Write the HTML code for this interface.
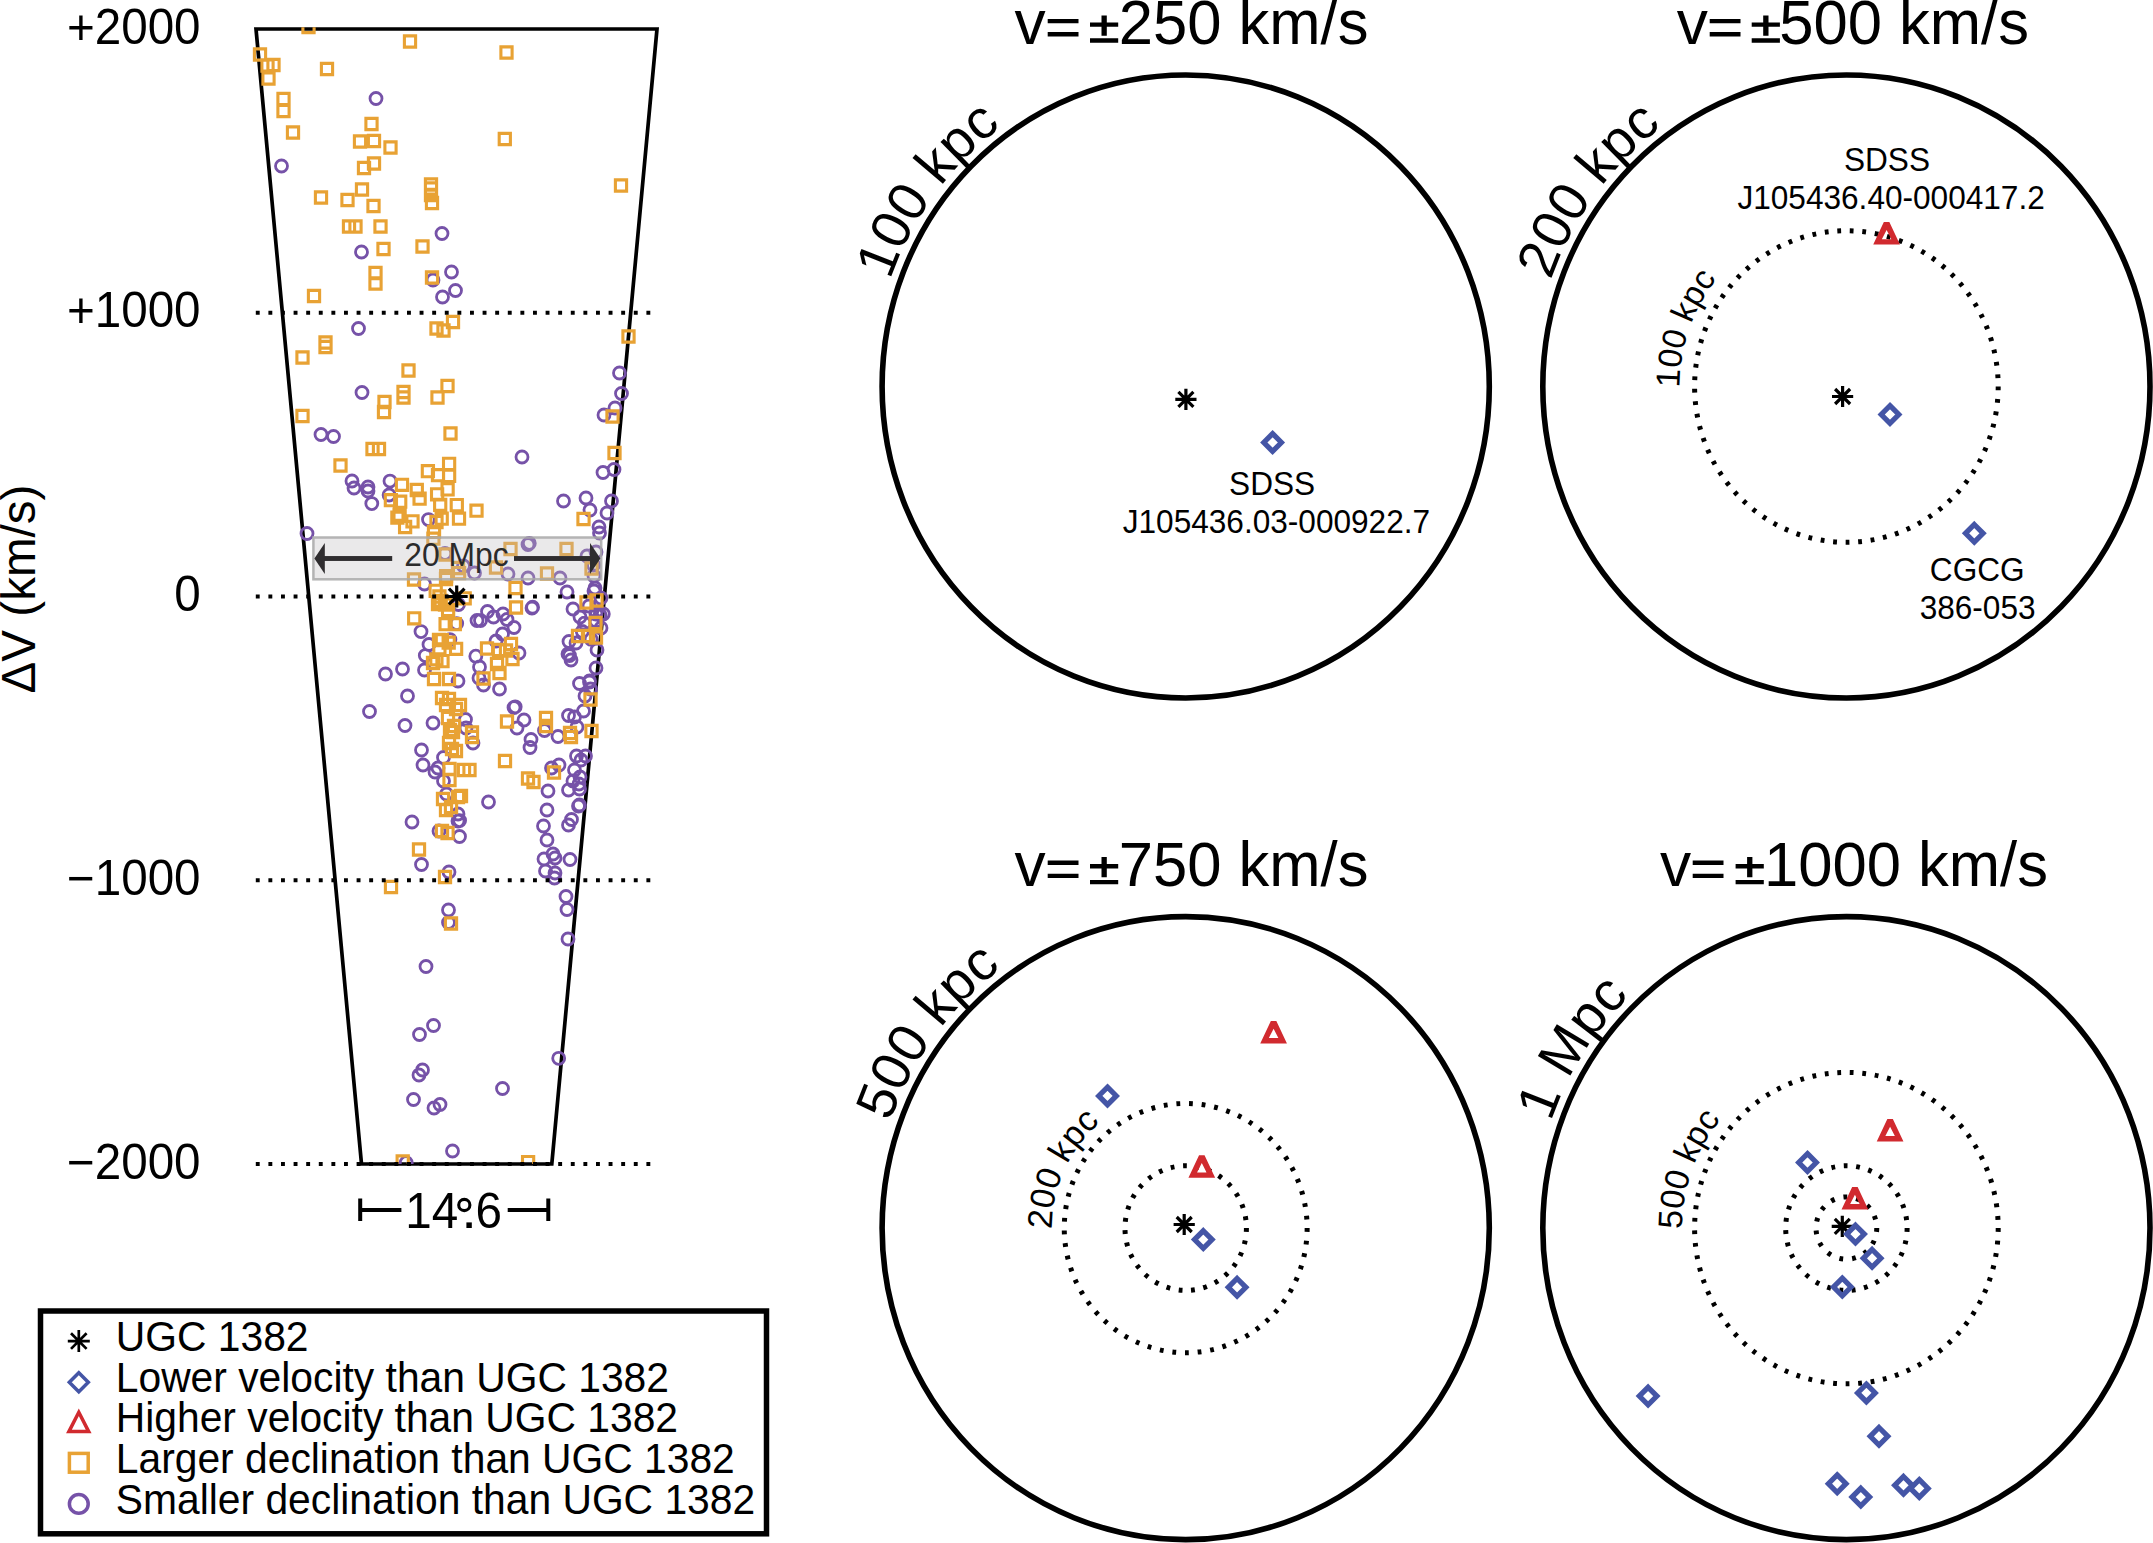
<!DOCTYPE html><html><head><meta charset="utf-8"><style>html,body{margin:0;padding:0;background:#fff;overflow:hidden}svg{display:block}</style></head><body><svg width="2153" height="1543" viewBox="0 0 2153 1543" font-family='"Liberation Sans", sans-serif'>
<rect width="100%" height="100%" fill="#fff"/>
<defs><clipPath id="wc"><rect x="240" y="27.2" width="430" height="1136.8"/></clipPath></defs>
<path d="M256 29H657L551.8 1164H361.5Z" stroke="#000" stroke-width="3.7" fill="none" stroke-linejoin="miter"/>
<g clip-path="url(#wc)">
<path d="M370.0 98.5a6 6 0 1 0 12 0a6 6 0 1 0 -12 0zM275.5 166.0a6 6 0 1 0 12 0a6 6 0 1 0 -12 0zM436.0 233.5a6 6 0 1 0 12 0a6 6 0 1 0 -12 0zM355.5 252.0a6 6 0 1 0 12 0a6 6 0 1 0 -12 0zM445.5 272.0a6 6 0 1 0 12 0a6 6 0 1 0 -12 0zM427.0 280.0a6 6 0 1 0 12 0a6 6 0 1 0 -12 0zM449.5 290.5a6 6 0 1 0 12 0a6 6 0 1 0 -12 0zM436.5 297.0a6 6 0 1 0 12 0a6 6 0 1 0 -12 0zM352.5 328.5a6 6 0 1 0 12 0a6 6 0 1 0 -12 0zM356.0 392.5a6 6 0 1 0 12 0a6 6 0 1 0 -12 0zM315.0 434.5a6 6 0 1 0 12 0a6 6 0 1 0 -12 0zM327.5 436.5a6 6 0 1 0 12 0a6 6 0 1 0 -12 0zM613.5 373.0a6 6 0 1 0 12 0a6 6 0 1 0 -12 0zM615.5 393.5a6 6 0 1 0 12 0a6 6 0 1 0 -12 0zM609.0 408.0a6 6 0 1 0 12 0a6 6 0 1 0 -12 0zM598.0 415.0a6 6 0 1 0 12 0a6 6 0 1 0 -12 0zM516.0 457.0a6 6 0 1 0 12 0a6 6 0 1 0 -12 0zM346.0 481.0a6 6 0 1 0 12 0a6 6 0 1 0 -12 0zM348.0 488.0a6 6 0 1 0 12 0a6 6 0 1 0 -12 0zM362.0 487.0a6 6 0 1 0 12 0a6 6 0 1 0 -12 0zM362.0 491.0a6 6 0 1 0 12 0a6 6 0 1 0 -12 0zM384.0 481.1a6 6 0 1 0 12 0a6 6 0 1 0 -12 0zM365.8 503.6a6 6 0 1 0 12 0a6 6 0 1 0 -12 0zM383.1 495.0a6 6 0 1 0 12 0a6 6 0 1 0 -12 0zM422.5 519.6a6 6 0 1 0 12 0a6 6 0 1 0 -12 0zM301.0 533.5a6 6 0 1 0 12 0a6 6 0 1 0 -12 0zM439.0 553.5a6 6 0 1 0 12 0a6 6 0 1 0 -12 0zM418.5 584.0a6 6 0 1 0 12 0a6 6 0 1 0 -12 0zM597.0 472.5a6 6 0 1 0 12 0a6 6 0 1 0 -12 0zM608.0 469.5a6 6 0 1 0 12 0a6 6 0 1 0 -12 0zM557.5 501.0a6 6 0 1 0 12 0a6 6 0 1 0 -12 0zM580.0 498.0a6 6 0 1 0 12 0a6 6 0 1 0 -12 0zM605.5 501.0a6 6 0 1 0 12 0a6 6 0 1 0 -12 0zM584.0 510.0a6 6 0 1 0 12 0a6 6 0 1 0 -12 0zM601.0 513.0a6 6 0 1 0 12 0a6 6 0 1 0 -12 0zM593.0 527.0a6 6 0 1 0 12 0a6 6 0 1 0 -12 0zM593.5 533.0a6 6 0 1 0 12 0a6 6 0 1 0 -12 0zM522.0 544.5a6 6 0 1 0 12 0a6 6 0 1 0 -12 0zM590.0 552.0a6 6 0 1 0 12 0a6 6 0 1 0 -12 0zM581.0 556.0a6 6 0 1 0 12 0a6 6 0 1 0 -12 0zM587.5 565.0a6 6 0 1 0 12 0a6 6 0 1 0 -12 0zM468.5 573.0a6 6 0 1 0 12 0a6 6 0 1 0 -12 0zM457.5 566.0a6 6 0 1 0 12 0a6 6 0 1 0 -12 0zM502.0 574.0a6 6 0 1 0 12 0a6 6 0 1 0 -12 0zM522.0 578.0a6 6 0 1 0 12 0a6 6 0 1 0 -12 0zM554.0 578.0a6 6 0 1 0 12 0a6 6 0 1 0 -12 0zM588.0 576.0a6 6 0 1 0 12 0a6 6 0 1 0 -12 0zM561.0 592.0a6 6 0 1 0 12 0a6 6 0 1 0 -12 0zM588.0 591.0a6 6 0 1 0 12 0a6 6 0 1 0 -12 0zM452.5 604.5a6 6 0 1 0 12 0a6 6 0 1 0 -12 0zM471.0 620.5a6 6 0 1 0 12 0a6 6 0 1 0 -12 0zM415.0 631.6a6 6 0 1 0 12 0a6 6 0 1 0 -12 0zM423.0 644.5a6 6 0 1 0 12 0a6 6 0 1 0 -12 0zM419.3 655.6a6 6 0 1 0 12 0a6 6 0 1 0 -12 0zM450.7 623.6a6 6 0 1 0 12 0a6 6 0 1 0 -12 0zM443.9 639.6a6 6 0 1 0 12 0a6 6 0 1 0 -12 0zM469.8 656.2a6 6 0 1 0 12 0a6 6 0 1 0 -12 0zM418.5 670.0a6 6 0 1 0 12 0a6 6 0 1 0 -12 0zM396.5 669.0a6 6 0 1 0 12 0a6 6 0 1 0 -12 0zM379.5 674.0a6 6 0 1 0 12 0a6 6 0 1 0 -12 0zM401.5 696.0a6 6 0 1 0 12 0a6 6 0 1 0 -12 0zM363.5 711.5a6 6 0 1 0 12 0a6 6 0 1 0 -12 0zM399.0 725.5a6 6 0 1 0 12 0a6 6 0 1 0 -12 0zM427.0 723.0a6 6 0 1 0 12 0a6 6 0 1 0 -12 0zM452.0 681.0a6 6 0 1 0 12 0a6 6 0 1 0 -12 0zM595.0 598.0a6 6 0 1 0 12 0a6 6 0 1 0 -12 0zM526.0 608.0a6 6 0 1 0 12 0a6 6 0 1 0 -12 0zM481.5 611.5a6 6 0 1 0 12 0a6 6 0 1 0 -12 0zM474.5 620.5a6 6 0 1 0 12 0a6 6 0 1 0 -12 0zM487.5 617.0a6 6 0 1 0 12 0a6 6 0 1 0 -12 0zM497.0 614.0a6 6 0 1 0 12 0a6 6 0 1 0 -12 0zM501.0 619.5a6 6 0 1 0 12 0a6 6 0 1 0 -12 0zM508.0 627.5a6 6 0 1 0 12 0a6 6 0 1 0 -12 0zM496.5 634.0a6 6 0 1 0 12 0a6 6 0 1 0 -12 0zM490.0 641.0a6 6 0 1 0 12 0a6 6 0 1 0 -12 0zM513.0 653.0a6 6 0 1 0 12 0a6 6 0 1 0 -12 0zM473.5 667.0a6 6 0 1 0 12 0a6 6 0 1 0 -12 0zM473.0 678.0a6 6 0 1 0 12 0a6 6 0 1 0 -12 0zM477.5 685.0a6 6 0 1 0 12 0a6 6 0 1 0 -12 0zM493.5 689.0a6 6 0 1 0 12 0a6 6 0 1 0 -12 0zM567.0 609.0a6 6 0 1 0 12 0a6 6 0 1 0 -12 0zM574.0 617.0a6 6 0 1 0 12 0a6 6 0 1 0 -12 0zM594.0 615.0a6 6 0 1 0 12 0a6 6 0 1 0 -12 0zM595.0 628.0a6 6 0 1 0 12 0a6 6 0 1 0 -12 0zM563.0 641.5a6 6 0 1 0 12 0a6 6 0 1 0 -12 0zM570.0 643.0a6 6 0 1 0 12 0a6 6 0 1 0 -12 0zM562.0 654.0a6 6 0 1 0 12 0a6 6 0 1 0 -12 0zM565.0 660.0a6 6 0 1 0 12 0a6 6 0 1 0 -12 0zM591.0 650.0a6 6 0 1 0 12 0a6 6 0 1 0 -12 0zM590.0 668.0a6 6 0 1 0 12 0a6 6 0 1 0 -12 0zM573.5 683.5a6 6 0 1 0 12 0a6 6 0 1 0 -12 0zM583.5 681.0a6 6 0 1 0 12 0a6 6 0 1 0 -12 0zM584.5 689.0a6 6 0 1 0 12 0a6 6 0 1 0 -12 0zM579.0 696.0a6 6 0 1 0 12 0a6 6 0 1 0 -12 0zM508.0 707.5a6 6 0 1 0 12 0a6 6 0 1 0 -12 0zM518.0 720.0a6 6 0 1 0 12 0a6 6 0 1 0 -12 0zM511.0 728.0a6 6 0 1 0 12 0a6 6 0 1 0 -12 0zM562.5 715.5a6 6 0 1 0 12 0a6 6 0 1 0 -12 0zM568.5 717.0a6 6 0 1 0 12 0a6 6 0 1 0 -12 0zM577.5 711.0a6 6 0 1 0 12 0a6 6 0 1 0 -12 0zM571.0 727.0a6 6 0 1 0 12 0a6 6 0 1 0 -12 0zM459.5 719.5a6 6 0 1 0 12 0a6 6 0 1 0 -12 0zM460.0 728.0a6 6 0 1 0 12 0a6 6 0 1 0 -12 0zM415.5 750.0a6 6 0 1 0 12 0a6 6 0 1 0 -12 0zM417.0 765.0a6 6 0 1 0 12 0a6 6 0 1 0 -12 0zM432.0 768.0a6 6 0 1 0 12 0a6 6 0 1 0 -12 0zM429.0 772.0a6 6 0 1 0 12 0a6 6 0 1 0 -12 0zM437.5 757.5a6 6 0 1 0 12 0a6 6 0 1 0 -12 0zM437.5 781.0a6 6 0 1 0 12 0a6 6 0 1 0 -12 0zM440.5 794.0a6 6 0 1 0 12 0a6 6 0 1 0 -12 0zM452.0 814.0a6 6 0 1 0 12 0a6 6 0 1 0 -12 0zM452.0 821.0a6 6 0 1 0 12 0a6 6 0 1 0 -12 0zM453.5 836.5a6 6 0 1 0 12 0a6 6 0 1 0 -12 0zM406.0 822.0a6 6 0 1 0 12 0a6 6 0 1 0 -12 0zM433.0 831.0a6 6 0 1 0 12 0a6 6 0 1 0 -12 0zM415.5 864.5a6 6 0 1 0 12 0a6 6 0 1 0 -12 0zM443.0 872.0a6 6 0 1 0 12 0a6 6 0 1 0 -12 0zM467.0 743.0a6 6 0 1 0 12 0a6 6 0 1 0 -12 0zM538.5 730.5a6 6 0 1 0 12 0a6 6 0 1 0 -12 0zM552.0 736.5a6 6 0 1 0 12 0a6 6 0 1 0 -12 0zM525.0 739.5a6 6 0 1 0 12 0a6 6 0 1 0 -12 0zM524.0 747.5a6 6 0 1 0 12 0a6 6 0 1 0 -12 0zM570.5 756.0a6 6 0 1 0 12 0a6 6 0 1 0 -12 0zM579.5 756.0a6 6 0 1 0 12 0a6 6 0 1 0 -12 0zM575.0 760.0a6 6 0 1 0 12 0a6 6 0 1 0 -12 0zM553.0 765.0a6 6 0 1 0 12 0a6 6 0 1 0 -12 0zM545.5 768.0a6 6 0 1 0 12 0a6 6 0 1 0 -12 0zM568.5 770.0a6 6 0 1 0 12 0a6 6 0 1 0 -12 0zM574.0 777.0a6 6 0 1 0 12 0a6 6 0 1 0 -12 0zM567.0 781.0a6 6 0 1 0 12 0a6 6 0 1 0 -12 0zM573.0 784.0a6 6 0 1 0 12 0a6 6 0 1 0 -12 0zM562.5 790.0a6 6 0 1 0 12 0a6 6 0 1 0 -12 0zM573.5 789.0a6 6 0 1 0 12 0a6 6 0 1 0 -12 0zM542.0 791.0a6 6 0 1 0 12 0a6 6 0 1 0 -12 0zM482.5 802.0a6 6 0 1 0 12 0a6 6 0 1 0 -12 0zM572.5 806.0a6 6 0 1 0 12 0a6 6 0 1 0 -12 0zM541.0 810.0a6 6 0 1 0 12 0a6 6 0 1 0 -12 0zM565.5 819.5a6 6 0 1 0 12 0a6 6 0 1 0 -12 0zM562.5 825.0a6 6 0 1 0 12 0a6 6 0 1 0 -12 0zM537.5 826.0a6 6 0 1 0 12 0a6 6 0 1 0 -12 0zM541.0 840.0a6 6 0 1 0 12 0a6 6 0 1 0 -12 0zM538.0 859.0a6 6 0 1 0 12 0a6 6 0 1 0 -12 0zM547.0 854.0a6 6 0 1 0 12 0a6 6 0 1 0 -12 0zM549.0 858.0a6 6 0 1 0 12 0a6 6 0 1 0 -12 0zM564.0 859.5a6 6 0 1 0 12 0a6 6 0 1 0 -12 0zM539.5 871.0a6 6 0 1 0 12 0a6 6 0 1 0 -12 0zM549.0 873.0a6 6 0 1 0 12 0a6 6 0 1 0 -12 0zM442.5 910.0a6 6 0 1 0 12 0a6 6 0 1 0 -12 0zM442.5 922.5a6 6 0 1 0 12 0a6 6 0 1 0 -12 0zM420.0 966.5a6 6 0 1 0 12 0a6 6 0 1 0 -12 0zM548.5 878.0a6 6 0 1 0 12 0a6 6 0 1 0 -12 0zM560.0 896.5a6 6 0 1 0 12 0a6 6 0 1 0 -12 0zM561.0 909.5a6 6 0 1 0 12 0a6 6 0 1 0 -12 0zM562.0 939.0a6 6 0 1 0 12 0a6 6 0 1 0 -12 0zM427.5 1025.5a6 6 0 1 0 12 0a6 6 0 1 0 -12 0zM413.5 1034.5a6 6 0 1 0 12 0a6 6 0 1 0 -12 0zM416.5 1070.0a6 6 0 1 0 12 0a6 6 0 1 0 -12 0zM413.0 1075.0a6 6 0 1 0 12 0a6 6 0 1 0 -12 0zM496.5 1088.5a6 6 0 1 0 12 0a6 6 0 1 0 -12 0zM407.5 1099.5a6 6 0 1 0 12 0a6 6 0 1 0 -12 0zM434.0 1104.5a6 6 0 1 0 12 0a6 6 0 1 0 -12 0zM428.0 1108.0a6 6 0 1 0 12 0a6 6 0 1 0 -12 0zM446.5 1151.0a6 6 0 1 0 12 0a6 6 0 1 0 -12 0zM400.2 1162.7a6 6 0 1 0 12 0a6 6 0 1 0 -12 0zM552.7 1058.3a6 6 0 1 0 12 0a6 6 0 1 0 -12 0zM578.4 623.2a6 6 0 1 0 12 0a6 6 0 1 0 -12 0zM576.3 631.5a6 6 0 1 0 12 0a6 6 0 1 0 -12 0zM590.3 611.8a6 6 0 1 0 12 0a6 6 0 1 0 -12 0zM589.8 623.2a6 6 0 1 0 12 0a6 6 0 1 0 -12 0zM585.1 639.2a6 6 0 1 0 12 0a6 6 0 1 0 -12 0zM583.0 606.0a6 6 0 1 0 12 0a6 6 0 1 0 -12 0zM526.6 607.2a6 6 0 1 0 12 0a6 6 0 1 0 -12 0zM453.6 820.6a6 6 0 1 0 12 0a6 6 0 1 0 -12 0zM573.4 805.0a6 6 0 1 0 12 0a6 6 0 1 0 -12 0zM509.2 706.8a6 6 0 1 0 12 0a6 6 0 1 0 -12 0zM523.3 543.3a6 6 0 1 0 12 0a6 6 0 1 0 -12 0zM589.0 588.0a6 6 0 1 0 12 0a6 6 0 1 0 -12 0zM590.0 621.0a6 6 0 1 0 12 0a6 6 0 1 0 -12 0zM563.5 655.5a6 6 0 1 0 12 0a6 6 0 1 0 -12 0zM583.5 682.0a6 6 0 1 0 12 0a6 6 0 1 0 -12 0zM590.0 614.0a6 6 0 1 0 12 0a6 6 0 1 0 -12 0zM597.3 614.0a6 6 0 1 0 12 0a6 6 0 1 0 -12 0z" stroke="#7652A8" stroke-width="2.8" fill="none"/>
<path d="M302.9 21.4h11.2v11.2h-11.2zM404.4 35.9h11.2v11.2h-11.2zM254.4 48.9h11.2v11.2h-11.2zM261.9 59.9h11.2v11.2h-11.2zM267.9 59.4h11.2v11.2h-11.2zM262.9 72.9h11.2v11.2h-11.2zM277.9 93.4h11.2v11.2h-11.2zM277.9 105.4h11.2v11.2h-11.2zM287.4 126.9h11.2v11.2h-11.2zM321.4 63.4h11.2v11.2h-11.2zM365.9 118.4h11.2v11.2h-11.2zM354.4 135.9h11.2v11.2h-11.2zM368.4 135.4h11.2v11.2h-11.2zM384.9 141.9h11.2v11.2h-11.2zM368.4 157.9h11.2v11.2h-11.2zM358.4 162.4h11.2v11.2h-11.2zM500.9 46.9h11.2v11.2h-11.2zM499.2 133.4h11.2v11.2h-11.2zM356.4 183.9h11.2v11.2h-11.2zM315.4 191.9h11.2v11.2h-11.2zM341.9 194.4h11.2v11.2h-11.2zM367.9 200.4h11.2v11.2h-11.2zM425.4 178.9h11.2v11.2h-11.2zM425.4 182.9h11.2v11.2h-11.2zM425.4 189.4h11.2v11.2h-11.2zM426.4 197.4h11.2v11.2h-11.2zM343.4 220.9h11.2v11.2h-11.2zM349.9 220.9h11.2v11.2h-11.2zM374.9 220.9h11.2v11.2h-11.2zM377.9 243.4h11.2v11.2h-11.2zM416.9 240.9h11.2v11.2h-11.2zM369.9 267.4h11.2v11.2h-11.2zM369.9 277.9h11.2v11.2h-11.2zM426.4 271.9h11.2v11.2h-11.2zM308.4 290.4h11.2v11.2h-11.2zM615.4 179.9h11.2v11.2h-11.2zM447.4 316.4h11.2v11.2h-11.2zM430.9 322.9h11.2v11.2h-11.2zM437.9 324.9h11.2v11.2h-11.2zM319.9 336.9h11.2v11.2h-11.2zM319.9 341.4h11.2v11.2h-11.2zM296.9 351.9h11.2v11.2h-11.2zM402.9 364.9h11.2v11.2h-11.2zM441.9 380.4h11.2v11.2h-11.2zM397.9 386.4h11.2v11.2h-11.2zM397.9 391.9h11.2v11.2h-11.2zM378.9 396.4h11.2v11.2h-11.2zM378.4 406.4h11.2v11.2h-11.2zM431.9 391.9h11.2v11.2h-11.2zM296.9 410.4h11.2v11.2h-11.2zM444.9 427.9h11.2v11.2h-11.2zM366.9 443.4h11.2v11.2h-11.2zM373.4 443.4h11.2v11.2h-11.2zM622.9 330.9h11.2v11.2h-11.2zM606.9 410.9h11.2v11.2h-11.2zM608.9 447.4h11.2v11.2h-11.2zM334.9 459.9h11.2v11.2h-11.2zM422.3 465.6h11.2v11.2h-11.2zM443.5 458.3h11.2v11.2h-11.2zM432.4 469.6h11.2v11.2h-11.2zM443.5 470.3h11.2v11.2h-11.2zM396.4 479.2h11.2v11.2h-11.2zM411.2 484.4h11.2v11.2h-11.2zM442.0 483.8h11.2v11.2h-11.2zM431.5 488.7h11.2v11.2h-11.2zM385.3 494.6h11.2v11.2h-11.2zM394.6 496.1h11.2v11.2h-11.2zM414.0 493.0h11.2v11.2h-11.2zM434.6 499.2h11.2v11.2h-11.2zM451.2 499.5h11.2v11.2h-11.2zM394.0 509.1h11.2v11.2h-11.2zM391.8 512.1h11.2v11.2h-11.2zM406.9 515.8h11.2v11.2h-11.2zM399.5 521.4h11.2v11.2h-11.2zM430.9 516.4h11.2v11.2h-11.2zM436.1 513.1h11.2v11.2h-11.2zM453.4 513.1h11.2v11.2h-11.2zM470.9 505.1h11.2v11.2h-11.2zM428.4 526.3h11.2v11.2h-11.2zM427.8 533.1h11.2v11.2h-11.2zM439.9 548.9h11.2v11.2h-11.2zM408.4 573.9h11.2v11.2h-11.2zM440.4 573.4h11.2v11.2h-11.2zM577.9 513.4h11.2v11.2h-11.2zM504.9 543.4h11.2v11.2h-11.2zM560.9 543.4h11.2v11.2h-11.2zM490.4 561.9h11.2v11.2h-11.2zM452.4 562.4h11.2v11.2h-11.2zM541.4 567.9h11.2v11.2h-11.2zM585.9 562.9h11.2v11.2h-11.2zM509.9 582.4h11.2v11.2h-11.2zM440.6 570.6h11.2v11.2h-11.2zM453.5 567.5h11.2v11.2h-11.2zM430.1 585.3h11.2v11.2h-11.2zM433.8 590.9h11.2v11.2h-11.2zM435.1 595.2h11.2v11.2h-11.2zM459.1 592.7h11.2v11.2h-11.2zM439.4 598.9h11.2v11.2h-11.2zM442.5 604.4h11.2v11.2h-11.2zM442.5 607.5h11.2v11.2h-11.2zM408.6 612.7h11.2v11.2h-11.2zM440.0 618.6h11.2v11.2h-11.2zM449.2 618.6h11.2v11.2h-11.2zM436.3 634.6h11.2v11.2h-11.2zM443.1 637.1h11.2v11.2h-11.2zM450.5 643.2h11.2v11.2h-11.2zM433.8 643.8h11.2v11.2h-11.2zM430.8 653.7h11.2v11.2h-11.2zM436.9 655.5h11.2v11.2h-11.2zM427.4 657.4h11.2v11.2h-11.2zM428.4 673.4h11.2v11.2h-11.2zM443.4 673.4h11.2v11.2h-11.2zM443.4 693.4h11.2v11.2h-11.2zM440.4 699.4h11.2v11.2h-11.2zM450.4 703.4h11.2v11.2h-11.2zM442.4 712.4h11.2v11.2h-11.2zM448.4 720.4h11.2v11.2h-11.2zM444.4 724.4h11.2v11.2h-11.2zM436.4 692.4h11.2v11.2h-11.2zM433.4 634.4h11.2v11.2h-11.2zM432.4 598.4h11.2v11.2h-11.2zM454.4 699.4h11.2v11.2h-11.2zM510.4 601.9h11.2v11.2h-11.2zM580.9 596.9h11.2v11.2h-11.2zM590.9 594.9h11.2v11.2h-11.2zM589.9 617.4h11.2v11.2h-11.2zM572.4 630.4h11.2v11.2h-11.2zM582.4 630.4h11.2v11.2h-11.2zM590.4 631.9h11.2v11.2h-11.2zM481.4 642.9h11.2v11.2h-11.2zM493.4 644.4h11.2v11.2h-11.2zM500.4 644.9h11.2v11.2h-11.2zM505.4 638.4h11.2v11.2h-11.2zM506.9 653.4h11.2v11.2h-11.2zM491.4 658.4h11.2v11.2h-11.2zM493.9 667.4h11.2v11.2h-11.2zM477.9 672.9h11.2v11.2h-11.2zM584.9 693.9h11.2v11.2h-11.2zM501.4 715.9h11.2v11.2h-11.2zM540.4 712.4h11.2v11.2h-11.2zM540.4 720.4h11.2v11.2h-11.2zM585.9 725.4h11.2v11.2h-11.2zM466.4 726.9h11.2v11.2h-11.2zM564.4 727.4h11.2v11.2h-11.2zM447.4 726.4h11.2v11.2h-11.2zM443.4 737.4h11.2v11.2h-11.2zM446.4 743.4h11.2v11.2h-11.2zM450.4 745.4h11.2v11.2h-11.2zM443.9 763.4h11.2v11.2h-11.2zM443.9 774.4h11.2v11.2h-11.2zM437.4 793.4h11.2v11.2h-11.2zM440.4 804.4h11.2v11.2h-11.2zM445.4 801.4h11.2v11.2h-11.2zM455.4 790.4h11.2v11.2h-11.2zM436.4 825.4h11.2v11.2h-11.2zM441.9 827.4h11.2v11.2h-11.2zM413.4 843.9h11.2v11.2h-11.2zM439.4 871.4h11.2v11.2h-11.2zM458.4 764.4h11.2v11.2h-11.2zM466.4 731.4h11.2v11.2h-11.2zM565.4 731.4h11.2v11.2h-11.2zM499.4 755.4h11.2v11.2h-11.2zM463.9 764.4h11.2v11.2h-11.2zM522.4 772.9h11.2v11.2h-11.2zM527.9 776.4h11.2v11.2h-11.2zM548.4 766.9h11.2v11.2h-11.2zM452.4 791.4h11.2v11.2h-11.2zM385.4 881.4h11.2v11.2h-11.2zM445.4 917.9h11.2v11.2h-11.2zM397.1 1155.9h11.2v11.2h-11.2zM522.5 1156.5h11.2v11.2h-11.2z" stroke="#E8A234" stroke-width="3.1" fill="none"/>
</g>
<line x1="255.8" y1="312.75" x2="652" y2="312.75" stroke="#000" stroke-width="4.2" stroke-dasharray="3.9 8.7"/>
<line x1="255.8" y1="596.50" x2="652" y2="596.50" stroke="#000" stroke-width="4.2" stroke-dasharray="3.9 8.7"/>
<line x1="255.8" y1="880.25" x2="652" y2="880.25" stroke="#000" stroke-width="4.2" stroke-dasharray="3.9 8.7"/>
<line x1="255.8" y1="1164.00" x2="652" y2="1164.00" stroke="#000" stroke-width="4.2" stroke-dasharray="3.9 8.7"/>
<path d="M445.7 596.5H467.7M456.7 585.5V607.5M448.9 588.7L464.5 604.3M448.9 604.3L464.5 588.7" stroke="#000" stroke-width="3.2" fill="none"/>
<rect x="313.4" y="537.5" width="287.8" height="41.8" fill="rgba(190,188,190,0.32)" stroke="#A8A8A8" stroke-opacity="0.85" stroke-width="2.5"/>
<g fill="#2f2d2f" stroke="none">
<rect x="324" y="556.05" width="68.2" height="4.9"/>
<path d="M314.4 558.5L324.8 543.1V574.1Z"/>
<rect x="514" y="556.05" width="77" height="4.9"/>
<path d="M600.4 558.5L590 543.1V574.1Z"/>
</g>
<text transform="translate(456.50 566.00) scale(1 1.04)" font-size="31.8" text-anchor="middle" fill="#2b2b2b">20 Mpc</text>
<text transform="translate(200.60 43.60) scale(1 1.04)" font-size="47.6" text-anchor="end" >+2000</text>
<text transform="translate(200.60 327.35) scale(1 1.04)" font-size="47.6" text-anchor="end" >+1000</text>
<text transform="translate(200.60 611.10) scale(1 1.04)" font-size="47.6" text-anchor="end" >0</text>
<text transform="translate(200.60 894.85) scale(1 1.04)" font-size="47.6" text-anchor="end" >−1000</text>
<text transform="translate(200.60 1178.60) scale(1 1.04)" font-size="47.6" text-anchor="end" >−2000</text>
<text transform="translate(35 589) rotate(-90)" font-size="47.6" text-anchor="middle">ΔV (km/s)</text>
<path d="M360.2 1198.5V1221M360.2 1210H401.4M507.7 1210H548.3M548.3 1198.5V1221" stroke="#000" stroke-width="4"/>
<text transform="translate(405.30 1228.00) scale(1 1.04)" font-size="47.6" >14</text>
<rect x="466.4" y="1222.4" width="5.4" height="5.6"/>
<circle cx="464.3" cy="1205" r="5.6" fill="none" stroke="#000" stroke-width="3.1"/>
<text transform="translate(475.40 1228.00) scale(1 1.04)" font-size="47.6" >6</text>
<rect x="40.5" y="1311" width="726" height="222.8" fill="none" stroke="#000" stroke-width="5.5"/>
<text transform="translate(115.80 1351.00) scale(1 1.04)" font-size="40.8" >UGC 1382</text>
<text transform="translate(115.80 1391.70) scale(1 1.04)" font-size="40.8" >Lower velocity than UGC 1382</text>
<text transform="translate(115.80 1432.40) scale(1 1.04)" font-size="40.8" >Higher velocity than UGC 1382</text>
<text transform="translate(115.80 1473.10) scale(1 1.04)" font-size="40.8" >Larger declination than UGC 1382</text>
<text transform="translate(115.80 1513.80) scale(1 1.04)" font-size="40.8" >Smaller declination than UGC 1382</text>
<path d="M67.8 1341.1H89.8M78.8 1330.1V1352.1M71.0 1333.3L86.6 1348.9M71.0 1348.9L86.6 1333.3" stroke="#000" stroke-width="2.7" fill="none"/>
<path d="M78.8 1372.7L88.3 1382.2L78.8 1391.7L69.3 1382.2Z" stroke="#4455A6" stroke-width="3.5" fill="none" stroke-linejoin="miter"/>
<path d="M78.8 1412.3L88.7 1431.6H68.9Z" stroke="#D12A2F" stroke-width="3.5" fill="none"/>
<rect x="69.4" y="1453.4" width="18.8" height="18.8" stroke="#E8A234" stroke-width="3.5" fill="none"/>
<circle cx="78.8" cy="1503.9" r="9.4" stroke="#7652A8" stroke-width="3.5" fill="none"/>
<ellipse cx="1185.7" cy="386.5" rx="303.6" ry="311.5" stroke="#000" stroke-width="5.6" fill="none"/>
<text transform="translate(1014.40 44.10) scale(1 1.0)" font-size="62.3" >v</text>
<path d="M1047.7 18.9h30.8v4.4h-30.8zM1047.7 32.1h30.8v4.4h-30.8z"/>
<path d="M1090.0 22.4h28.2v4.4h-28.2zM1101.5 15.4h5.3v20.3h-5.3zM1090.0 38.3h28.2v4.4h-28.2z"/>
<text transform="translate(1368.50 44.10) scale(1 1.01)" font-size="61.6" text-anchor="end" >250 km/s</text>
<path id="arc0" d="M890.20 280.40A313.10 321.00 0 0 1 1456.85 226.00" fill="none"/>
<text font-size="55"><textPath href="#arc0">100 kpc</textPath></text>
<ellipse cx="1846.4" cy="386.5" rx="303.6" ry="311.5" stroke="#000" stroke-width="5.6" fill="none"/>
<ellipse cx="1846.4" cy="386.5" rx="151.80" ry="155.75" stroke="#000" stroke-width="5" fill="none" stroke-dasharray="3.80 8.748"/>
<text transform="translate(1676.80 44.10) scale(1 1.0)" font-size="62.3" >v</text>
<path d="M1709.7 18.9h30.8v4.4h-30.8zM1709.7 32.1h30.8v4.4h-30.8z"/>
<path d="M1751.7 22.4h28.2v4.4h-28.2zM1763.2 15.4h5.3v20.3h-5.3zM1751.7 38.3h28.2v4.4h-28.2z"/>
<text transform="translate(2029.00 44.10) scale(1 1.01)" font-size="61.6" text-anchor="end" >500 km/s</text>
<path id="arc1" d="M1550.90 280.40A313.10 321.00 0 0 1 2117.55 226.00" fill="none"/>
<text font-size="55"><textPath href="#arc1">200 kpc</textPath></text>
<path id="sarc1" d="M1679.60 387.69A166.80 170.75 0 0 1 1990.85 301.12" fill="none"/>
<text font-size="33.5"><textPath href="#sarc1">100 kpc</textPath></text>
<ellipse cx="1185.7" cy="1228.1" rx="303.6" ry="311.5" stroke="#000" stroke-width="5.6" fill="none"/>
<ellipse cx="1185.7" cy="1228.1" rx="121.44" ry="124.60" stroke="#000" stroke-width="5" fill="none" stroke-dasharray="3.80 8.871"/>
<ellipse cx="1185.7" cy="1228.1" rx="60.72" ry="62.30" stroke="#000" stroke-width="5" fill="none" stroke-dasharray="3.80 8.667"/>
<text transform="translate(1014.40 885.70) scale(1 1.0)" font-size="62.3" >v</text>
<path d="M1047.7 860.5h30.8v4.4h-30.8zM1047.7 873.7h30.8v4.4h-30.8z"/>
<path d="M1090.0 864.0h28.2v4.4h-28.2zM1101.5 857.0h5.3v20.3h-5.3zM1090.0 879.9h28.2v4.4h-28.2z"/>
<text transform="translate(1368.50 885.70) scale(1 1.01)" font-size="61.6" text-anchor="end" >750 km/s</text>
<path id="arc2" d="M890.20 1122.00A313.10 321.00 0 0 1 1456.85 1067.60" fill="none"/>
<text font-size="55"><textPath href="#arc2">500 kpc</textPath></text>
<path id="sarc2" d="M1051.76 1229.06A133.94 137.10 0 0 1 1301.70 1159.55" fill="none"/>
<text font-size="34.5"><textPath href="#sarc2">200 kpc</textPath></text>
<ellipse cx="1846.4" cy="1228.1" rx="303.6" ry="311.5" stroke="#000" stroke-width="5.6" fill="none"/>
<ellipse cx="1846.4" cy="1228.1" rx="151.80" ry="155.75" stroke="#000" stroke-width="5" fill="none" stroke-dasharray="3.80 8.748"/>
<ellipse cx="1846.4" cy="1228.1" rx="60.72" ry="62.30" stroke="#000" stroke-width="5" fill="none" stroke-dasharray="3.80 8.667"/>
<ellipse cx="1846.4" cy="1228.1" rx="30.36" ry="31.15" stroke="#000" stroke-width="5" fill="none" stroke-dasharray="3.80 9.083"/>
<text transform="translate(1659.90 885.70) scale(1 1.0)" font-size="62.3" >v</text>
<path d="M1692.7 860.5h30.8v4.4h-30.8zM1692.7 873.7h30.8v4.4h-30.8z"/>
<path d="M1735.6 864.0h28.2v4.4h-28.2zM1747.1 857.0h5.3v20.3h-5.3zM1735.6 879.9h28.2v4.4h-28.2z"/>
<text transform="translate(2048.00 885.70) scale(1 1.01)" font-size="61.6" text-anchor="end" >1000 km/s</text>
<path id="arc3" d="M1550.90 1122.00A313.10 321.00 0 0 1 2117.55 1067.60" fill="none"/>
<text font-size="55"><textPath href="#arc3">1 Mpc</textPath></text>
<path id="sarc3" d="M1682.10 1229.27A164.30 168.25 0 0 1 1988.69 1143.97" fill="none"/>
<text font-size="34"><textPath href="#sarc3">500 kpc</textPath></text>
<path d="M1175.3 399.3H1196.5M1185.9 388.7V409.9M1178.4 391.8L1193.4 406.8M1178.4 406.8L1193.4 391.8" stroke="#000" stroke-width="3.2" fill="none"/>
<path d="M1272.6 433.7L1281.4 442.5L1272.6 451.3L1263.8 442.5Z" stroke="#4455A6" stroke-width="5.2" fill="none" stroke-linejoin="miter"/>
<text transform="translate(1272.10 495.10) scale(1 1.04)" font-size="31.6" text-anchor="middle" >SDSS</text>
<text transform="translate(1276.40 533.40) scale(1 1.04)" font-size="31.6" text-anchor="middle" >J105436.03-000922.7</text>
<path d="M1832.0 396.5H1853.2M1842.6 385.9V407.1M1835.1 389.0L1850.1 404.0M1835.1 404.0L1850.1 389.0" stroke="#000" stroke-width="3.2" fill="none"/>
<path d="M1890.0 405.7L1898.8 414.5L1890.0 423.3L1881.2 414.5Z" stroke="#4455A6" stroke-width="5.2" fill="none" stroke-linejoin="miter"/>
<path d="M1974.3 524.5L1983.1 533.3L1974.3 542.1L1965.5 533.3Z" stroke="#4455A6" stroke-width="5.2" fill="none" stroke-linejoin="miter"/>
<path fill-rule="evenodd" fill="#D12A2F" d="M1883.85 222.10H1889.35L1899.95 244.60H1873.25ZM1886.60 229.90L1891.35 239.20H1881.85Z"/>
<text transform="translate(1887.00 170.60) scale(1 1.04)" font-size="31.6" text-anchor="middle" >SDSS</text>
<text transform="translate(1891.10 208.80) scale(1 1.04)" font-size="31.6" text-anchor="middle" >J105436.40-000417.2</text>
<text transform="translate(1977.20 580.90) scale(1 1.04)" font-size="31.6" text-anchor="middle" >CGCG</text>
<text transform="translate(1977.60 619.30) scale(1 1.04)" font-size="31.6" text-anchor="middle" >386-053</text>
<path d="M1107.5 1087.1L1116.3 1095.9L1107.5 1104.7L1098.7 1095.9Z" stroke="#4455A6" stroke-width="5.2" fill="none" stroke-linejoin="miter"/>
<path fill-rule="evenodd" fill="#D12A2F" d="M1270.85 1020.90H1276.35L1286.95 1043.40H1260.25ZM1273.60 1028.70L1278.35 1038.00H1268.85Z"/>
<path fill-rule="evenodd" fill="#D12A2F" d="M1199.05 1155.30H1204.55L1215.15 1177.80H1188.45ZM1201.80 1163.10L1206.55 1172.40H1197.05Z"/>
<path d="M1173.6 1224.5H1194.8M1184.2 1213.9V1235.1M1176.7 1217.0L1191.7 1232.0M1176.7 1232.0L1191.7 1217.0" stroke="#000" stroke-width="3.2" fill="none"/>
<path d="M1203.3 1230.8L1212.1 1239.6L1203.3 1248.4L1194.5 1239.6Z" stroke="#4455A6" stroke-width="5.2" fill="none" stroke-linejoin="miter"/>
<path d="M1237.1 1278.5L1245.9 1287.3L1237.1 1296.1L1228.3 1287.3Z" stroke="#4455A6" stroke-width="5.2" fill="none" stroke-linejoin="miter"/>
<path fill-rule="evenodd" fill="#D12A2F" d="M1887.35 1119.00H1892.85L1903.45 1141.50H1876.75ZM1890.10 1126.80L1894.85 1136.10H1885.35Z"/>
<path d="M1807.5 1153.7L1816.3 1162.5L1807.5 1171.3L1798.7 1162.5Z" stroke="#4455A6" stroke-width="5.2" fill="none" stroke-linejoin="miter"/>
<path fill-rule="evenodd" fill="#D12A2F" d="M1852.15 1186.90H1857.65L1868.25 1209.40H1841.55ZM1854.90 1194.70L1859.65 1204.00H1850.15Z"/>
<path d="M1831.7 1226.4H1852.9M1842.3 1215.8V1237.0M1834.8 1218.9L1849.8 1233.9M1834.8 1233.9L1849.8 1218.9" stroke="#000" stroke-width="3.2" fill="none"/>
<path d="M1855.5 1225.3L1864.3 1234.1L1855.5 1242.9L1846.7 1234.1Z" stroke="#4455A6" stroke-width="5.2" fill="none" stroke-linejoin="miter"/>
<path d="M1872.1 1249.5L1880.9 1258.3L1872.1 1267.1L1863.3 1258.3Z" stroke="#4455A6" stroke-width="5.2" fill="none" stroke-linejoin="miter"/>
<path d="M1842.3 1278.2L1851.1 1287.0L1842.3 1295.8L1833.5 1287.0Z" stroke="#4455A6" stroke-width="5.2" fill="none" stroke-linejoin="miter"/>
<path d="M1866.4 1384.1L1875.2 1392.9L1866.4 1401.7L1857.6 1392.9Z" stroke="#4455A6" stroke-width="5.2" fill="none" stroke-linejoin="miter"/>
<path d="M1648.1 1387.3L1656.9 1396.1L1648.1 1404.9L1639.3 1396.1Z" stroke="#4455A6" stroke-width="5.2" fill="none" stroke-linejoin="miter"/>
<path d="M1879.0 1427.5L1887.8 1436.3L1879.0 1445.1L1870.2 1436.3Z" stroke="#4455A6" stroke-width="5.2" fill="none" stroke-linejoin="miter"/>
<path d="M1837.2 1474.9L1846.0 1483.7L1837.2 1492.5L1828.4 1483.7Z" stroke="#4455A6" stroke-width="5.2" fill="none" stroke-linejoin="miter"/>
<path d="M1860.8 1488.3L1869.6 1497.1L1860.8 1505.9L1852.0 1497.1Z" stroke="#4455A6" stroke-width="5.2" fill="none" stroke-linejoin="miter"/>
<path d="M1903.5 1476.5L1912.3 1485.3L1903.5 1494.1L1894.7 1485.3Z" stroke="#4455A6" stroke-width="5.2" fill="none" stroke-linejoin="miter"/>
<path d="M1919.3 1479.6L1928.1 1488.4L1919.3 1497.2L1910.5 1488.4Z" stroke="#4455A6" stroke-width="5.2" fill="none" stroke-linejoin="miter"/>
</svg></body></html>
